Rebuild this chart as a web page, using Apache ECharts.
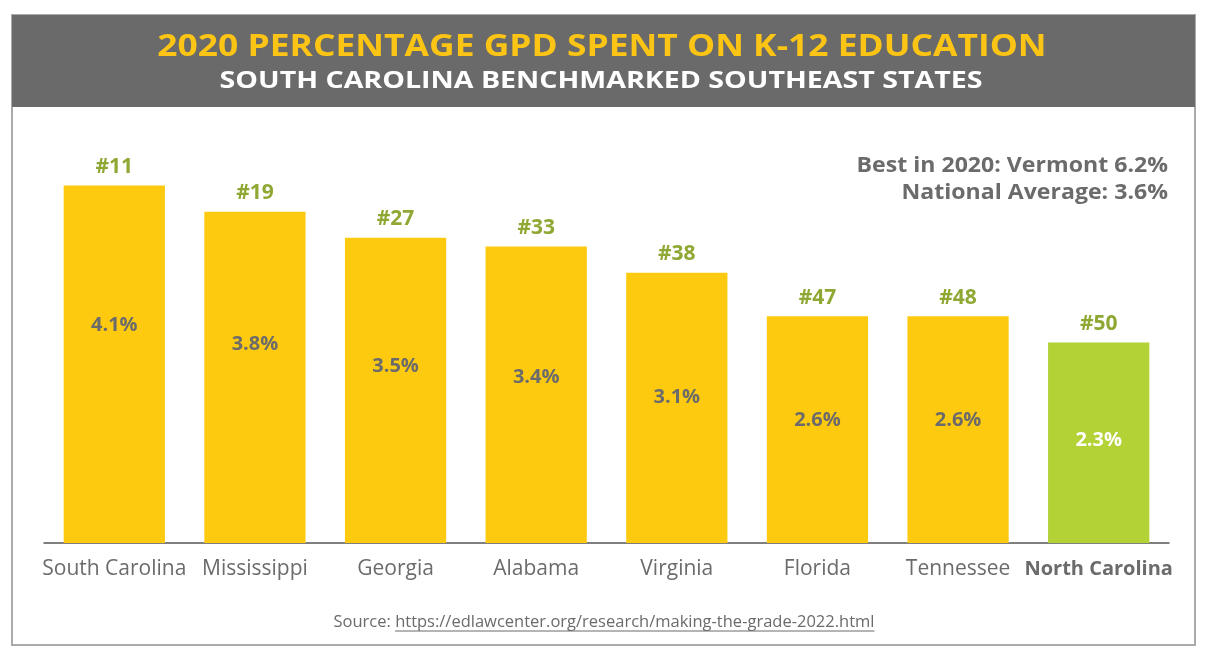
<!DOCTYPE html>
<html>
<head>
<meta charset="utf-8">
<script src="https://cdn.jsdelivr.net/npm/echarts@6/dist/echarts.min.js"></script>
<style>
  html, body { margin: 0; padding: 0; background: #fff; }
  #container { width: 1209px; height: 661px; }
</style>
</head>
<body>
<div id="container"></div>
<script>
// data
const states = ['South Carolina', 'Mississippi', 'Georgia', 'Alabama', 'Virginia', 'Florida', 'Tennessee', 'North Carolina'];
const gdpShare = [4.1, 3.8, 3.5, 3.4, 3.1, 2.6, 2.6, 2.3];
const ranks = ['#11', '#19', '#27', '#33', '#38', '#47', '#48', '#50'];
const highlight = 'North Carolina';

// where the % label sits inside each bar (share of bar height from top)
const labelAt = ['39%', '40%', '42%', '44%', '46%', '46%', '46%', '49%'];

const YELLOW = '#fdca10';
const GREEN = '#b2d235';
const RANK_GREEN = '#8fa833';
const GREY = '#6b6b6b';
const FONT = 'Open Sans';

var dom = document.getElementById('container');
var chart = echarts.init(dom, null, { renderer: 'canvas' });

// measure text so the underline of the source link fits
var ctx = document.createElement('canvas').getContext('2d');
function textW(txt, font) { ctx.font = font; return ctx.measureText(txt).width; }

var srcFont = '16.5px ' + FONT;
var srcLead = 'Source: ';
var srcUrl = 'https://edlawcenter.org/research/making-the-grade-2022.html';
var leadW = textW(srcLead, srcFont);
var urlW = textW(srcUrl, srcFont);
var srcX = 604 - (leadW + urlW) / 2;

var barData = gdpShare.map(function (v, i) {
    var isHl = states[i] == highlight;
    return {
        value: v,
        itemStyle: { color: isHl ? GREEN : YELLOW },
        label: {
            position: ['50%', labelAt[i]],
            color: isHl ? '#ffffff' : GREY
        }
    };
});

var option = {
    animation: false,
    backgroundColor: '#ffffff',
    grid: { left: 44, right: 40, top: 107, bottom: 118 },
    xAxis: {
        type: 'category',
        data: states,
        axisLine: { lineStyle: { color: '#555', width: 1.5 } },
        axisTick: { show: false },
        axisLabel: {
            margin: 16,
            interval: 0,
            fontFamily: FONT,
            fontSize: 21,
            color: GREY,
            formatter: function (v) {
                return v == highlight ? '{b|' + v + '}' : v;
            },
            rich: { b: { fontFamily: FONT, fontSize: 20, fontWeight: 'bold', color: GREY } }
        }
    },
    yAxis: {
        type: 'value',
        min: 0,
        max: 5,
        show: false,
        splitLine: { show: false }
    },
    series: [
        {
            type: 'bar',
            data: barData,
            barCategoryGap: '28%',
            label: {
                show: true,
                align: 'center',
                verticalAlign: 'middle',
                fontFamily: FONT,
                fontSize: 20,
                fontWeight: 'bold',
                formatter: function (p) { return p.value.toFixed(1) + '%'; }
            }
        },
        {
            // rank labels above bars
            type: 'bar',
            data: gdpShare,
            barGap: '-100%',
            barCategoryGap: '28%',
            itemStyle: { color: 'transparent' },
            silent: true,
            label: {
                show: true,
                position: 'top',
                distance: 8,
                fontFamily: FONT,
                fontSize: 21,
                fontWeight: 'bold',
                color: RANK_GREEN,
                formatter: function (p) { return ranks[p.dataIndex]; }
            }
        }
    ],
    graphic: [
        {
            type: 'rect', z: -1,
            shape: { x: 12, y: 15, width: 1183, height: 630 },
            style: { fill: '#fff', stroke: '#aaaaaa', lineWidth: 2 }
        },
        {
            type: 'rect', z: 0,
            shape: { x: 12, y: 15, width: 1183, height: 92 },
            style: { fill: '#696a69' }
        },
        {
            type: 'text', z: 1, x: 602, y: 47, scaleX: 1.18,
            style: {
                text: '2020 PERCENTAGE GPD SPENT ON K-12 EDUCATION',
                fill: '#fcc414', font: 'bold 30px ' + FONT,
                align: 'center', verticalAlign: 'middle'
            }
        },
        {
            type: 'text', z: 1, x: 601, y: 81, scaleX: 1.19,
            style: {
                text: 'SOUTH CAROLINA BENCHMARKED SOUTHEAST STATES',
                fill: '#ffffff', font: 'bold 24px ' + FONT,
                align: 'center', verticalAlign: 'middle'
            }
        },
        {
            type: 'text', z: 1, x: 1168, y: 166, scaleX: 1.1,
            style: {
                text: 'Best in 2020: Vermont 6.2%',
                fill: GREY, font: 'bold 21px ' + FONT,
                align: 'right', verticalAlign: 'middle'
            }
        },
        {
            type: 'text', z: 1, x: 1168, y: 193, scaleX: 1.1,
            style: {
                text: 'National Average: 3.6%',
                fill: GREY, font: 'bold 21px ' + FONT,
                align: 'right', verticalAlign: 'middle'
            }
        },
        {
            type: 'text', z: 1, x: srcX, y: 622,
            style: {
                text: srcLead,
                fill: GREY, font: srcFont,
                align: 'left', verticalAlign: 'middle'
            }
        },
        {
            type: 'text', z: 1, x: srcX + leadW, y: 622,
            style: {
                text: srcUrl,
                fill: GREY, font: srcFont,
                align: 'left', verticalAlign: 'middle'
            }
        },
        {
            type: 'line', z: 1,
            shape: { x1: srcX + leadW, y1: 631, x2: srcX + leadW + urlW, y2: 631 },
            style: { stroke: GREY, lineWidth: 1 }
        }
    ]
};

chart.setOption(option);
</script>
</body>
</html>
